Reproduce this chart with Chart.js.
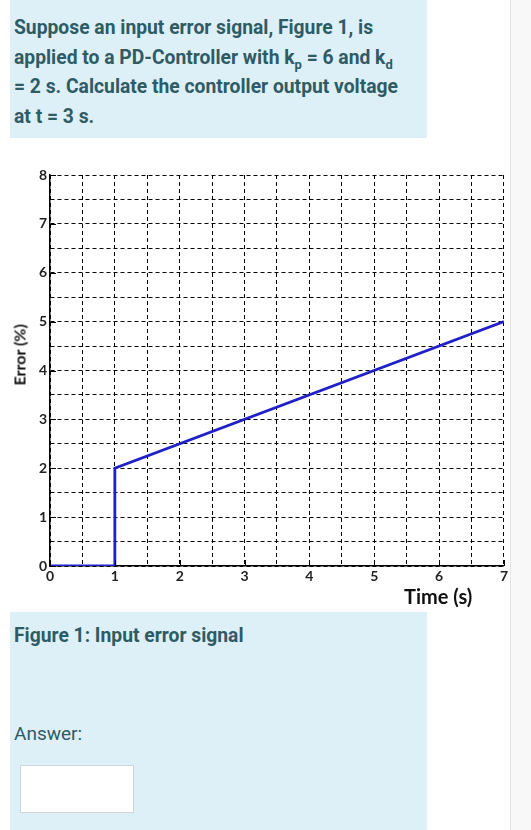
<!DOCTYPE html>
<html>
<head>
  <title>Input error signal</title>
  <script src="https://cdn.jsdelivr.net/npm/chart.js"></script>
  <style>
    body { margin: 0; width: 531px; height: 830px; background: #fff; position: relative; overflow: hidden; font-family: Roboto, sans-serif; }
    .panel { position: absolute; left: 10px; width: 417px; background: #def0f7; color: #2f5b64; }
    #question { top: 0; height: 138px; }
    #question p { margin: 0; position: absolute; left: 4px; top: 13px; white-space: nowrap; font-weight: bold; font-size: 19.3px; line-height: 29.5px; }
    #question sub { font-size: 13px; line-height: 0; }
    #lower { top: 612px; height: 218px; }
    #caption { position: absolute; left: 4px; top: 12px; font-weight: bold; font-size: 19.3px; }
    #answer { position: absolute; left: 4px; top: 110px; font-size: 19px; }
    #box { position: absolute; left: 10px; top: 153px; width: 112px; height: 46px; background: #fff; border: 1px solid #cfd6d8; }
    #edge { position: absolute; left: 510px; top: 0; width: 21px; height: 830px; background: #f8f8f8; border-left: 1px solid #e4e4e4; }
    #plot { position: absolute; left: 10px; top: 140px; width: 500px; height: 472px; }
    .axis-title { position: absolute; font-family: Lato, sans-serif; font-weight: bold; color: #111; white-space: nowrap; }
    #xtitle { left: 404px; top: 584px; font-size: 20px; }
    #ytitle { left: -11px; top: 346px; font-size: 16px; transform: rotate(-90deg); transform-origin: 50% 50%; width: 60px; text-align: center; }
  </style>
</head>
<body>
  <div class="panel" id="question">
    <p>Suppose an input error signal, Figure 1, is<br>applied to a PD-Controller with k<sub>p</sub> = 6 and k<sub>d</sub><br>= 2 s. Calculate the controller output voltage<br>at t = 3 s.</p>
  </div>
  <div id="edge"></div>
  <div id="plot"><canvas id="chart" width="500" height="472"></canvas></div>
  <div class="axis-title" id="xtitle">Time (s)</div>
  <div class="axis-title" id="ytitle">Error (%)</div>
  <div class="panel" id="lower">
    <div id="caption">Figure 1: Input error signal</div>
    <div id="answer">Answer:</div>
    <div id="box"></div>
  </div>

  <script>
    // signal
    const timeSec = [0, 1, 1, 7];
    const errorPct = [0, 0, 2, 5];
    const xTicks = [0, 1, 2, 3, 4, 5, 6, 7];
    const yTicks = [0, 1, 2, 3, 4, 5, 6, 7, 8];

    const tickFont = { family: 'Lato', weight: 'bold', size: 14 };
    const dashGrid = { color: '#000', lineWidth: 1, drawTicks: false };
    const axisLine = { display: true, color: '#000', width: 1.5, dash: [4, 3] };

    // small solid ticks pointing into the plot at whole units
    const innerTicks = {
      id: 'innerTicks',
      afterDraw(chart) {
        const { ctx, chartArea, scales } = chart;
        ctx.save();
        ctx.strokeStyle = '#000';
        ctx.lineWidth = 1;
        ctx.beginPath();
        xTicks.forEach(v => {
          const px = Math.round(scales.x.getPixelForValue(v)) + 0.5;
          ctx.moveTo(px, chartArea.bottom);
          ctx.lineTo(px, chartArea.bottom - 6);
        });
        yTicks.forEach(v => {
          const py = Math.round(scales.y.getPixelForValue(v)) + 0.5;
          ctx.moveTo(chartArea.left, py);
          ctx.lineTo(chartArea.left + 6, py);
        });
        ctx.stroke();
        ctx.restore();
      }
    };

    const ctx = document.getElementById('chart').getContext('2d');
    const chart = new Chart(ctx, {
      type: 'line',
      data: {
        datasets: [{
          data: timeSec.map((t, i) => ({ x: t, y: errorPct[i] })),
          borderColor: '#2020c8',
          borderWidth: 2.8,
          pointRadius: 0,
          fill: false,
          tension: 0
        }]
      },
      options: {
        responsive: false,
        animation: false,
        events: [],
        layout: { padding: { top: 35, right: 3, left: 0, bottom: 0 } },
        plugins: { legend: { display: false }, tooltip: { enabled: false } },
        scales: {
          x: {
            type: 'linear',
            min: 0,
            max: 7,
            afterFit(scale) { scale.height = 46; },
            grid: dashGrid,
            border: axisLine,
            ticks: {
              stepSize: 0.5,
              autoSkip: false,
              maxRotation: 0,
              padding: 2,
              color: '#222',
              font: tickFont,
              callback: v => (xTicks.includes(v) ? v : '')
            }
          },
          y: {
            min: 0,
            max: 8,
            afterFit(scale) { scale.width = 40; },
            grid: dashGrid,
            border: axisLine,
            ticks: {
              stepSize: 0.5,
              autoSkip: false,
              padding: 3,
              color: '#222',
              font: tickFont,
              callback: v => (yTicks.includes(v) ? v : '')
            }
          }
        }
      },
      plugins: [innerTicks]
    });
  </script>
</body>
</html>
